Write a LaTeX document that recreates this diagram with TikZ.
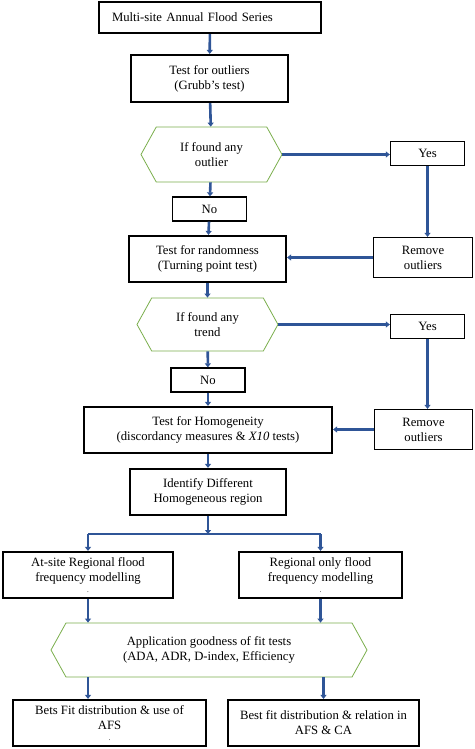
\documentclass[tikz,border=0pt]{standalone}
\usepackage{fontspec}
\setmainfont{Liberation Serif}
\usetikzlibrary{arrows.meta,shapes.symbols}
\definecolor{FlowBlue}{HTML}{2F5597}
\definecolor{FlowGreen}{HTML}{7AAE4C}

\begin{document}
\begin{tikzpicture}[x=1pt,y=-1pt,
    every node/.style={font=\fontsize{12.7}{15}\selectfont,inner sep=2pt},
    procbox/.style={draw,line width=2.2pt,align=center},
    ansbox/.style={draw,line width=1.3pt,align=center},
    decide/.style={draw=FlowGreen,line width=0.8pt,shape=signal,
      signal to=west and east,signal pointer angle=122,align=center},
    flow/.style={-{Triangle[length=4pt,width=6pt]},FlowBlue,line width=2.6pt},
    flowbar/.style={FlowBlue,line width=1.8pt}]
  \useasboundingbox (0,0) rectangle (474,749);

  % main column
  \node[procbox,minimum width=222,minimum height=31,text width=196,align=left]
    (series) at (210,17.5) {Multi-site Annual Flood Series};
  \node[procbox,minimum width=157,minimum height=47]
    (outlier) at (209.5,78.5) {Test for outliers\\(Grubb’s test)};
  \node[decide,minimum width=141,minimum height=55]
    (ifout) at (211.5,154.5) {If found any\\outlier};
  \node[ansbox,minimum width=74,minimum height=24] (nofirst) at (209.5,209) {No};
  \node[procbox,minimum width=157,minimum height=46]
    (random) at (207.5,259) {Test for randomness\\(Turning point test)};
  \node[decide,minimum width=141,minimum height=53]
    (iftrend) at (207.5,324.5) {If found any\\trend};
  \node[ansbox,minimum width=74,minimum height=24] (nosecond) at (208,380) {No};
  \node[procbox,minimum width=248,minimum height=46]
    (homog) at (208,430) {Test for Homogeneity\\(discordancy measures \& \textit{X10} tests)};
  \node[procbox,minimum width=156,minimum height=46]
    (region) at (208,492) {Identify Different\\Homogeneous region};

  % right column
  \node[ansbox,minimum width=74,minimum height=24] (yesfirst) at (427.5,153.5) {Yes};
  \node[ansbox,minimum width=99,minimum height=40]
    (remfirst) at (423,257.5) {Remove\\outliers};
  \node[ansbox,minimum width=74,minimum height=24] (yessecond) at (427.5,326.5) {Yes};
  \node[ansbox,minimum width=98,minimum height=40]
    (remsecond) at (423.5,429.5) {Remove\\outliers};

  % two branches
  \coordinate (split) at (208,534);
  \node[procbox,minimum width=170,minimum height=46]
    (atsite) at (88,575) {At-site Regional flood\\frequency modelling\\[-4pt]{\scriptsize .}};
  \node[procbox,minimum width=163,minimum height=46]
    (regonly) at (320.5,575) {Regional only flood\\frequency modelling\\[-4pt]{\scriptsize .}};
  \node[decide,minimum width=316,minimum height=54]
    (goodfit) at (209,650) {Application goodness of fit tests\\(ADA, ADR, D-index, Efficiency};
  \node[procbox,minimum width=193,minimum height=46]
    (bestafs) at (109.5,723) {Bets Fit distribution \& use of\\AFS\\[-4pt]{\scriptsize .}};
  \node[procbox,minimum width=191,minimum height=46]
    (bestca) at (323.5,723) {Best fit distribution \& relation in\\AFS \& CA};

  % connectors
  \draw[flow] (series) -- (outlier);
  \draw[flow] (outlier) -- (ifout);
  \draw[flow] (ifout) -- (nofirst);
  \draw[flow] (nofirst) -- (random);
  \draw[flow] (ifout.east) -- (ifout.east -| yesfirst.west);
  \draw[flow] (yesfirst.south) -- (yesfirst.south |- remfirst.north);
  \draw[flow] (remfirst.west) -- (remfirst.west -| random.east);
  \draw[flow] (random) -- (iftrend);
  \draw[flow] (iftrend) -- (nosecond);
  \draw[flow] (nosecond) -- (homog);
  \draw[flow] (iftrend.east) -- (iftrend.east -| yessecond.west);
  \draw[flow] (yessecond.south) -- (yessecond.south |- remsecond.north);
  \draw[flow] (remsecond.west) -- (remsecond.west -| homog.east);
  \draw[flow] (homog) -- (region);
  \draw[flow] (region) -- (split);
  \draw[flowbar] (split -| atsite.north) -- (split -| regonly.north);
  \draw[flow] (split -| atsite.north) -- (atsite.north);
  \draw[flow] (split -| regonly.north) -- (regonly.north);
  \draw[flow] (atsite.south) -- (atsite.south |- goodfit.north);
  \draw[flow] (regonly.south) -- (regonly.south |- goodfit.north);
  \draw[flow] (goodfit.south -| atsite.south) -- (bestafs.north -| atsite.south);
  \draw[flow] (goodfit.south -| bestca.north) -- (bestca.north);
\end{tikzpicture}
\end{document}
